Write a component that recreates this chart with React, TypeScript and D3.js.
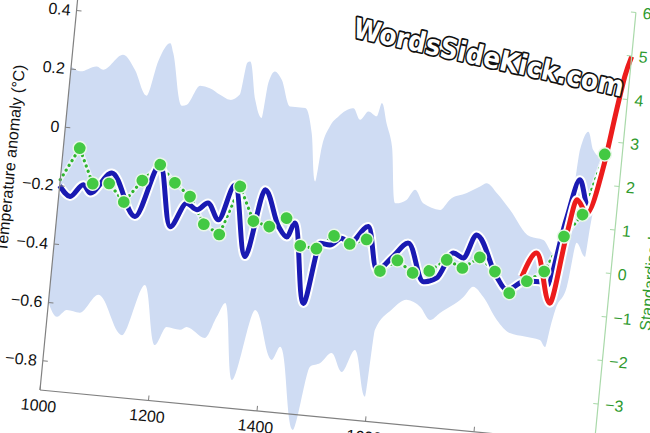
import React from "react";
import * as d3 from "d3";

// reconstruction (blue), degC
const blueYears = [1000, 1021, 1043, 1057, 1093, 1143, 1180, 1209, 1235, 1255, 1274, 1296, 1320, 1351, 1376, 1407, 1424, 1436, 1466, 1486, 1504, 1524, 1540, 1571, 1594, 1621, 1647, 1681, 1705, 1731, 1750, 1770, 1814, 1835, 1864, 1894, 1907, 1931, 1949, 1969, 1992];
const blueTemps = [-0.2, -0.233, -0.189, -0.215, -0.14, -0.28, -0.096, -0.303, -0.218, -0.237, -0.21, -0.264, -0.14, -0.38, -0.147, -0.267, -0.3, -0.25, -0.52, -0.31, -0.313, -0.286, -0.3, -0.238, -0.382, -0.332, -0.281, -0.407, -0.39, -0.3, -0.314, -0.231, -0.366, -0.408, -0.374, -0.369, -0.383, -0.15, -0.01, -0.098, 0.056];

// instrumental (red), degC
const redYears = [1860, 1883, 1916, 1935, 1947, 1968, 1990, 2004, 2013, 2022];
const redTemps = [-0.358, -0.273, -0.439, -0.195, -0.079, -0.121, 0.043, 0.24, 0.356, 0.425];

// 30-year means (green), standardised units
const greenYears = [1000, 1030, 1060, 1090, 1120, 1150, 1180, 1210, 1240, 1270, 1300, 1330, 1360, 1390, 1420, 1450, 1480, 1510, 1540, 1570, 1600, 1630, 1660, 1690, 1720, 1750, 1780, 1810, 1840, 1870, 1900, 1930, 1960, 1990];
const greenStd = [0.93, 1.69, 0.91, 0.95, 0.56, 1.09, 1.49, 1.11, 0.83, 0.23, 0.03, 1.17, 0.41, 0.32, 0.55, -0.05, -0.08, 0.25, 0.1, 0.24, -0.45, -0.17, -0.42, -0.34, -0.05, -0.2, 0.08, -0.21, -0.67, -0.36, -0.1, 0.74, 1.28, 2.7];

// uncertainty band
const bandUpperYears = [1000, 1017, 1047, 1059, 1093, 1117, 1143, 1158, 1177, 1184, 1209, 1218, 1239, 1257, 1277, 1296, 1313, 1321, 1326, 1342, 1357, 1363, 1373, 1387, 1407, 1435, 1451, 1466, 1472, 1483, 1497, 1523, 1537, 1551, 1567, 1574, 1586, 1600, 1616, 1636, 1650, 1667, 1699, 1715, 1745, 1768, 1780, 1800, 1827, 1868, 1893, 1913, 1935, 1944, 1956, 1968, 1982, 1993];
const bandUpperTemps = [0.208, 0.195, 0.217, 0.208, 0.265, 0.218, 0.134, 0.254, 0.32, 0.288, 0.111, 0.116, 0.185, 0.18, 0.161, 0.147, 0.168, 0.279, 0.284, 0.156, 0.096, 0.217, 0.258, 0.232, 0.144, 0.144, 0.061, -0.102, 0.019, 0.089, 0.126, 0.159, 0.122, 0.153, 0.139, 0.186, 0.119, 0.042, -0.15, -0.135, -0.098, -0.141, -0.158, -0.12, -0.092, -0.065, -0.052, -0.083, -0.135, -0.219, -0.226, -0.268, -0.235, 0.092, 0.156, 0.096, 0.075, 0.09];
const bandLowerYears = [1000, 1018, 1035, 1059, 1090, 1140, 1173, 1202, 1220, 1245, 1257, 1292, 1310, 1323, 1349, 1379, 1418, 1431, 1469, 1489, 1507, 1526, 1548, 1568, 1595, 1601, 1628, 1654, 1680, 1700, 1717, 1757, 1773, 1793, 1822, 1848, 1904, 1915, 1921, 1927, 1944, 1954, 1972, 1976, 1986, 1993];
const bandLowerTemps = [-0.6, -0.646, -0.62, -0.625, -0.558, -0.687, -0.509, -0.71, -0.645, -0.65, -0.638, -0.67, -0.594, -0.544, -0.803, -0.558, -0.722, -0.675, -0.953, -0.733, -0.717, -0.679, -0.74, -0.661, -0.817, -0.587, -0.513, -0.474, -0.494, -0.535, -0.508, -0.446, -0.408, -0.439, -0.513, -0.553, -0.567, -0.589, -0.519, -0.46, -0.378, -0.225, -0.27, -0.167, -0.014, 0.042];

const xTicks = [1000, 1200, 1400, 1600, 1800, 2000];
const yTicks = [-0.8, -0.6, -0.4, -0.2, 0, 0.2, 0.4];
const stdTicks = [-3, -2, -1, 0, 1, 2, 3, 4, 5, 6];

const W = 557;
const H = 434;
const ANGLE = 5.5;
const STD_ZERO = -0.318; // degC at standardised 0
const STD_UNIT = 0.149; // degC per standardised unit

const x = d3.scaleLinear().domain([1000, 2022]).range([0, W]);
const y = d3.scaleLinear().domain([-0.9, 0.58]).range([H, 0]);
const ys = d3
  .scaleLinear()
  .domain([(-0.9 - STD_ZERO) / STD_UNIT, (0.58 - STD_ZERO) / STD_UNIT])
  .range([H, 0]);

const smooth = d3
  .line<[number, number]>()
  .x((d) => x(d[0]))
  .y((d) => y(d[1]))
  .curve(d3.curveMonotoneX);

const zip = (a: number[], b: number[]) => a.map((v, i) => [v, b[i]] as [number, number]);

const bluePts = zip(blueYears, blueTemps);
const redPts = zip(redYears, redTemps);
const greenPts = greenYears.map((yr, i) => [x(yr), ys(greenStd[i])] as [number, number]);

const upperPath = smooth(zip(bandUpperYears, bandUpperTemps)) || "";
const lowerPath = smooth(zip(bandLowerYears, bandLowerTemps).reverse()) || "";
const bandPath = upperPath + "L" + lowerPath.slice(1) + "Z";

const fmtT = (t: number) => (t === 0 ? "0" : d3.format(".1f")(t));
const FONT = "'Liberation Sans', Arial, sans-serif";
const GREEN_TEXT = "#2e9a2e";

export default function App() {
  return (
    <svg
      width={650}
      height={433}
      style={{ position: "absolute", left: 0, top: 0, background: "#fff" }}
      fontFamily={FONT}
    >
      <g transform={`translate(40,390) rotate(${ANGLE}) translate(0,${-H})`}>
        <path d={bandPath} fill="#cfdcf3" />

        {/* green 30-yr means, dotted */}
        <path
          d={d3.line()(greenPts) || ""}
          fill="none"
          stroke="#fff"
          strokeWidth={5}
          strokeOpacity={0.6}
        />
        <path
          d={d3.line()(greenPts) || ""}
          fill="none"
          stroke="#2fb52f"
          strokeWidth={3.2}
          strokeDasharray="0.1 5.5"
          strokeLinecap="round"
        />

        <path d={smooth(bluePts) || ""} fill="none" stroke="#fff" strokeWidth={9} strokeLinejoin="round" />
        <path d={smooth(bluePts) || ""} fill="none" stroke="#1a1ab2" strokeWidth={5} strokeLinejoin="round" />

        <path d={smooth(redPts) || ""} fill="none" stroke="#fff" strokeWidth={9} strokeLinejoin="round" />
        <path d={smooth(redPts) || ""} fill="none" stroke="#ec1c1c" strokeWidth={5} strokeLinejoin="round" />

        {greenPts.slice(1).map((p, i) => (
          <circle key={i} cx={p[0]} cy={p[1]} r={6.6} fill="#43c943" stroke="#e9f7e9" strokeWidth={1.5} />
        ))}

        {/* left axis */}
        <line x1={0} x2={0} y1={0} y2={H} stroke="#808080" strokeWidth={1.2} />
        {yTicks.map((t) => (
          <g key={t} transform={`translate(0,${y(t)})`}>
            <line x1={0} x2={5} stroke="#808080" />
            <text x={-6} dy="0.35em" textAnchor="end" fontSize={16} fill="#111">
              {fmtT(t)}
            </text>
          </g>
        ))}
        <text
          transform={`translate(-46,112) rotate(-90)`}
          textAnchor="end"
          fontSize={16}
          fill="#111"
        >
          Temperature anomaly (°C)
        </text>

        {/* bottom axis */}
        <line x1={0} x2={W} y1={H} y2={H} stroke="#808080" strokeWidth={1.2} />
        {xTicks.map((t) => (
          <g key={t} transform={`translate(${x(t)},${H})`}>
            <line y1={0} y2={-5} stroke="#808080" />
            <text y={21} textAnchor="middle" fontSize={16} fill="#111">
              {t}
            </text>
          </g>
        ))}

        {/* right axis, standardised */}
        <line x1={W} x2={W} y1={ys(6)} y2={H} stroke="#a9d9a9" strokeWidth={1.2} />
        {stdTicks.map((t) => (
          <g key={t} transform={`translate(${W},${ys(t)})`}>
            <line x1={0} x2={-5} stroke="#a9d9a9" />
            <text x={7} dy="0.35em" fontSize={16} fill={GREEN_TEXT}>
              {d3.format("d")(t)}
            </text>
          </g>
        ))}
        <text
          transform={`translate(602,317) rotate(-90)`}
          fontSize={16}
          fill={GREEN_TEXT}
        >
          Standardised anomaly
        </text>
      </g>

      <text
        transform="translate(352,37) rotate(12.5)"
        fontFamily="'DejaVu Sans', sans-serif"
        fontWeight="bold"
        fontSize={28}
        textLength={276}
        lengthAdjust="spacingAndGlyphs"
        fill="#fff"
        stroke="#111"
        strokeWidth={3.4}
        strokeLinejoin="round"
        style={{ paintOrder: "stroke" }}
      >
        WordsSideKick.com
      </text>
    </svg>
  );
}
